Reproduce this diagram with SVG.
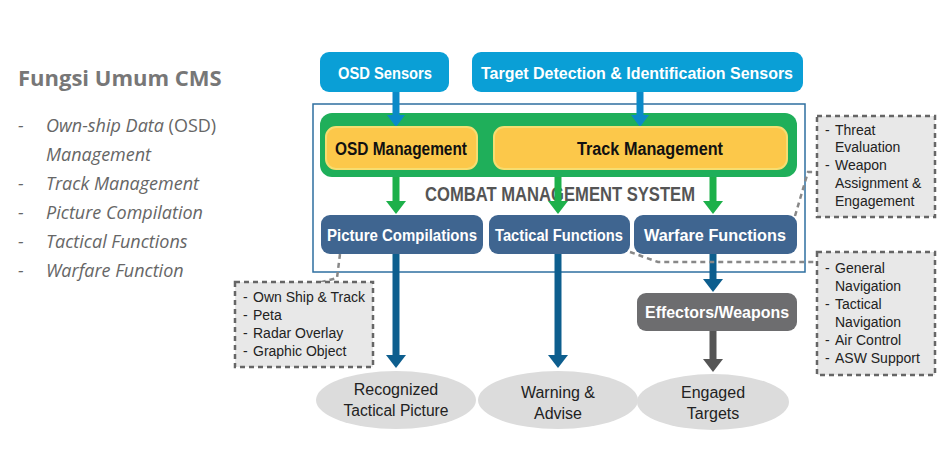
<svg xmlns="http://www.w3.org/2000/svg" width="952" height="451" viewBox="0 0 952 451">
<defs>
<style>
.t{font-family:"Liberation Sans",sans-serif;font-weight:bold;text-anchor:middle}
.w{fill:#fff;font-size:17px}
.k{fill:#111;font-size:18px}
.g{fill:#222;font-size:16px;font-weight:normal}
.s{font-family:"Liberation Sans",sans-serif;font-size:14px;fill:#222}
.l{font-family:"Open Sans",sans-serif;font-size:18px;fill:#666;font-style:italic}
.dash{fill:#e8e8e8;stroke:#666;stroke-width:2.5;stroke-dasharray:5 4}
.dl{fill:none;stroke:#888;stroke-width:2.5;stroke-dasharray:5 4}
</style>
</defs>
<rect width="952" height="451" fill="#fff"/>
<text x="18" y="86" font-family="Open Sans,sans-serif" font-weight="bold" font-size="22" fill="#777">Fungsi Umum CMS</text>
<g class="l">
<text x="18" y="132">-<tspan x="46">Own-ship Data </tspan><tspan font-style="normal">(OSD)</tspan></text>
<text x="46" y="161">Management</text>
<text x="18" y="190">-<tspan x="46">Track Management</tspan></text>
<text x="18" y="219">-<tspan x="46">Picture Compilation</tspan></text>
<text x="18" y="248">-<tspan x="46">Tactical Functions</tspan></text>
<text x="18" y="277">-<tspan x="46">Warfare Function</tspan></text>
</g>
<g id="cms"><rect x="313" y="104" width="492" height="168" fill="none" stroke="#2e6fa0" stroke-width="1.5"/>
<rect x="320" y="113" width="477" height="64" rx="12" fill="#1faf5a"/>
<text x="560" y="201" class="t" font-size="20" fill="#555" textLength="270" lengthAdjust="spacingAndGlyphs">COMBAT MANAGEMENT SYSTEM</text></g>
<g id="connectors">
<g stroke-width="7">
<line x1="396" y1="92" x2="396" y2="116" stroke="#0a8ac8"/>
<line x1="640" y1="92" x2="640" y2="116" stroke="#0a8ac8"/>
<line x1="396" y1="177" x2="396" y2="203" stroke="#1db04a"/>
<line x1="558" y1="177" x2="558" y2="203" stroke="#1db04a"/>
<line x1="713" y1="177" x2="713" y2="203" stroke="#1db04a"/>
<line x1="396" y1="254" x2="396" y2="357" stroke="#0d5e8e"/>
<line x1="558" y1="254" x2="558" y2="357" stroke="#0d5e8e"/>
<line x1="713" y1="254" x2="713" y2="280" stroke="#0d5e8e"/>
<line x1="713" y1="331" x2="713" y2="361" stroke="#555"/>
</g>
<polygon points="387,115 405,115 396,127" fill="#0a8ac8"/>
<polygon points="631,115 649,115 640,127" fill="#0a8ac8"/>
<polygon points="386,201 406,201 396,214" fill="#1db04a"/>
<polygon points="548,201 568,201 558,214" fill="#1db04a"/>
<polygon points="703,201 723,201 713,214" fill="#1db04a"/>
<polygon points="386,355 406,355 396,368" fill="#0d5e8e"/>
<polygon points="548,355 568,355 558,368" fill="#0d5e8e"/>
<polygon points="703,279 723,279 713,292" fill="#0d5e8e"/>
<polygon points="703,359 723,359 713,372" fill="#555"/>
<polyline class="dl" points="340,254 337,278 318,283"/>
<polyline class="dl" points="795,216 808,172 817,172"/>
<polyline class="dl" points="630,252 658,262 817,262"/>
</g>
<g id="osd-sensors"><rect x="320" y="52" width="129" height="40" rx="9" fill="#0a9fd6"/><text x="385" y="79" class="t w" textLength="94" lengthAdjust="spacingAndGlyphs">OSD Sensors</text></g>
<g id="target-sensors"><rect x="472" y="52" width="331" height="40" rx="9" fill="#0a9fd6"/><text x="637" y="79" class="t w" textLength="312" lengthAdjust="spacingAndGlyphs">Target Detection &amp; Identification Sensors</text></g>
<g id="osd-mgmt"><rect x="326" y="127" width="151" height="42" rx="10" fill="#fcc84a" stroke="#f6dd70" stroke-width="2"/><text x="401" y="155" class="t k" textLength="132" lengthAdjust="spacingAndGlyphs">OSD Management</text></g>
<g id="track-mgmt"><rect x="494" y="127" width="293" height="42" rx="10" fill="#fcc84a" stroke="#f6dd70" stroke-width="2"/><text x="650" y="155" class="t k" textLength="146" lengthAdjust="spacingAndGlyphs">Track Management</text></g>
<g id="picture"><rect x="321" y="215" width="162" height="39" rx="9" fill="#3f6590"/><text x="402" y="241" class="t w" textLength="150" lengthAdjust="spacingAndGlyphs">Picture Compilations</text></g>
<g id="tactical"><rect x="489" y="215" width="141" height="39" rx="9" fill="#3f6590"/><text x="559" y="241" class="t w" textLength="128" lengthAdjust="spacingAndGlyphs">Tactical Functions</text></g>
<g id="warfare"><rect x="634" y="215" width="163" height="39" rx="9" fill="#3f6590"/><text x="715" y="241" class="t w" textLength="142" lengthAdjust="spacingAndGlyphs">Warfare Functions</text></g>
<g id="effectors"><rect x="637" y="293" width="160" height="38" rx="9" fill="#6d6d6f"/><text x="717" y="318" class="t w" textLength="144" lengthAdjust="spacingAndGlyphs">Effectors/Weapons</text></g>
<g id="rtp"><ellipse cx="396" cy="400" rx="80" ry="29" fill="#dcdcdc"/><text x="396" y="395" class="t g">Recognized</text><text x="396" y="416" class="t g" textLength="105" lengthAdjust="spacingAndGlyphs">Tactical Picture</text></g>
<g id="warning"><ellipse cx="558" cy="400" rx="80" ry="29" fill="#dcdcdc"/><text x="558" y="398" class="t g">Warning &amp;</text><text x="558" y="419" class="t g">Advise</text></g>
<g id="engaged"><ellipse cx="713" cy="402" rx="76" ry="28" fill="#dcdcdc"/><text x="713" y="398" class="t g">Engaged</text><text x="713" y="419" class="t g">Targets</text></g>
<g id="pc-note"><rect x="235" y="282" width="138" height="85" class="dash"/>
<g class="s"><text x="243" y="302">-<tspan x="253">Own Ship &amp; Track</tspan></text><text x="243" y="320">-<tspan x="253">Peta</tspan></text><text x="243" y="338">-<tspan x="253">Radar Overlay</tspan></text><text x="243" y="356">-<tspan x="253">Graphic Object</tspan></text></g></g>
<g id="wf-note"><rect x="817" y="116" width="118" height="101" class="dash"/>
<g class="s"><text x="825" y="135">-<tspan x="835">Threat</tspan></text><text x="835" y="152">Evaluation</text><text x="825" y="170">-<tspan x="835">Weapon</tspan></text><text x="835" y="188">Assignment &amp;</text><text x="835" y="206">Engagement</text></g></g>
<g id="tf-note"><rect x="817" y="252" width="118" height="123" class="dash"/>
<g class="s"><text x="825" y="273">-<tspan x="835">General</tspan></text><text x="835" y="291">Navigation</text><text x="825" y="309">-<tspan x="835">Tactical</tspan></text><text x="835" y="327">Navigation</text><text x="825" y="345">-<tspan x="835">Air Control</tspan></text><text x="825" y="363">-<tspan x="835">ASW Support</tspan></text></g></g>
</svg>
